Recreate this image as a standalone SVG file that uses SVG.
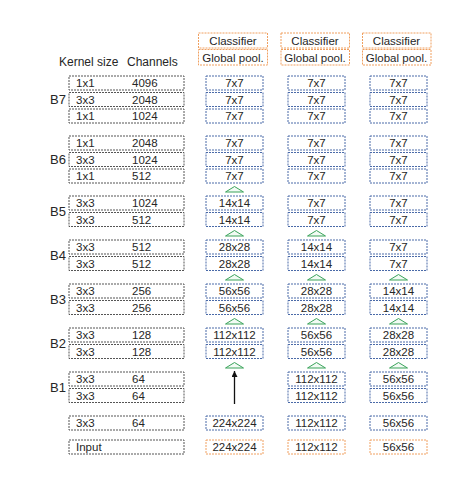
<svg xmlns="http://www.w3.org/2000/svg" width="474" height="496" viewBox="0 0 474 496">
<defs>
<style>
text{font-family:"Liberation Sans",Arial,sans-serif;font-size:11.5px;fill:#262626}
.hd{font-size:12px}
.bl{font-size:13px}
.c{text-anchor:middle}
.k{fill:none;stroke:#555;stroke-width:1;stroke-dasharray:2 1}
.b{fill:none;stroke:#4a6aa8;stroke-width:1;stroke-dasharray:2 1}
.o{fill:none;stroke:#f0a060;stroke-width:1;stroke-dasharray:2 1}
.t{fill:#f2fbf4;stroke:#3aa35a;stroke-width:1}
</style>
<marker id="ah" markerWidth="8" markerHeight="8" refX="6" refY="3" orient="auto" markerUnits="userSpaceOnUse">
<path d="M0,0 L6,3 L0,6 z" fill="#111"/>
</marker>
</defs>
<rect width="474" height="496" fill="#fff"/>

<g id="header">
<text class="hd" x="59" y="65.5">Kernel size</text>
<text class="hd" x="127" y="65.5">Channels</text>
</g>

<g id="labels">
<text class="bl" x="50" y="104">B7</text>
<text class="bl" x="50" y="164">B6</text>
<text class="bl" x="50" y="216">B5</text>
<text class="bl" x="50" y="260">B4</text>
<text class="bl" x="50" y="304">B3</text>
<text class="bl" x="50" y="348">B2</text>
<text class="bl" x="50" y="392">B1</text>
</g>

<g id="table">
<rect class="k" x="69" y="76" width="115" height="14"/><text x="76" y="87">1x1</text><text x="132" y="87">4096</text>
<rect class="k" x="69" y="92.5" width="115" height="14"/><text x="76" y="103.5">3x3</text><text x="132" y="103.5">2048</text>
<rect class="k" x="69" y="109" width="115" height="14"/><text x="76" y="120">1x1</text><text x="132" y="120">1024</text>
<rect class="k" x="69" y="136" width="115" height="14"/><text x="76" y="147">1x1</text><text x="132" y="147">2048</text>
<rect class="k" x="69" y="152.5" width="115" height="14"/><text x="76" y="163.5">3x3</text><text x="132" y="163.5">1024</text>
<rect class="k" x="69" y="169" width="115" height="14"/><text x="76" y="180">1x1</text><text x="132" y="180">512</text>
<rect class="k" x="69" y="196" width="115" height="14"/><text x="76" y="207">3x3</text><text x="132" y="207">1024</text>
<rect class="k" x="69" y="212.5" width="115" height="14"/><text x="76" y="223.5">3x3</text><text x="132" y="223.5">512</text>
<rect class="k" x="69" y="240" width="115" height="14"/><text x="76" y="251">3x3</text><text x="132" y="251">512</text>
<rect class="k" x="69" y="256.5" width="115" height="14"/><text x="76" y="267.5">3x3</text><text x="132" y="267.5">512</text>
<rect class="k" x="69" y="284" width="115" height="14"/><text x="76" y="295">3x3</text><text x="132" y="295">256</text>
<rect class="k" x="69" y="300.5" width="115" height="14"/><text x="76" y="311.5">3x3</text><text x="132" y="311.5">256</text>
<rect class="k" x="69" y="328" width="115" height="14"/><text x="76" y="339">3x3</text><text x="132" y="339">128</text>
<rect class="k" x="69" y="344.5" width="115" height="14"/><text x="76" y="355.5">3x3</text><text x="132" y="355.5">128</text>
<rect class="k" x="69" y="372" width="115" height="14"/><text x="76" y="383">3x3</text><text x="132" y="383">64</text>
<rect class="k" x="69" y="388.5" width="115" height="14"/><text x="76" y="399.5">3x3</text><text x="132" y="399.5">64</text>
<rect class="k" x="69" y="416" width="115" height="14"/><text x="76" y="427">3x3</text><text x="132" y="427">64</text>
<rect class="k" x="69" y="440" width="115" height="14"/><text x="76" y="451">Input</text>
</g>

<g id="col1">
<rect class="o" x="198.5" y="33" width="69" height="15"/><text class="c" x="233" y="45">Classifier</text>
<rect class="o" x="198.5" y="49.5" width="69" height="15.5"/><text class="c" x="233" y="61.5">Global pool.</text>
<rect class="b" x="206" y="76" width="57" height="14"/><text class="c" x="234.5" y="87">7x7</text>
<rect class="b" x="206" y="92.5" width="57" height="14"/><text class="c" x="234.5" y="103.5">7x7</text>
<rect class="b" x="206" y="109" width="57" height="14"/><text class="c" x="234.5" y="120">7x7</text>
<rect class="b" x="206" y="136" width="57" height="14"/><text class="c" x="234.5" y="147">7x7</text>
<rect class="b" x="206" y="152.5" width="57" height="14"/><text class="c" x="234.5" y="163.5">7x7</text>
<rect class="b" x="206" y="169" width="57" height="14"/><text class="c" x="234.5" y="180">7x7</text>
<rect class="b" x="206" y="196" width="57" height="14"/><text class="c" x="234.5" y="207">14x14</text>
<rect class="b" x="206" y="212.5" width="57" height="14"/><text class="c" x="234.5" y="223.5">14x14</text>
<rect class="b" x="206" y="240" width="57" height="14"/><text class="c" x="234.5" y="251">28x28</text>
<rect class="b" x="206" y="256.5" width="57" height="14"/><text class="c" x="234.5" y="267.5">28x28</text>
<rect class="b" x="206" y="284" width="57" height="14"/><text class="c" x="234.5" y="295">56x56</text>
<rect class="b" x="206" y="300.5" width="57" height="14"/><text class="c" x="234.5" y="311.5">56x56</text>
<rect class="b" x="206" y="328" width="57" height="14"/><text class="c" x="234.5" y="339">112x112</text>
<rect class="b" x="206" y="344.5" width="57" height="14"/><text class="c" x="234.5" y="355.5">112x112</text>
<rect class="b" x="206" y="416" width="57" height="14"/><text class="c" x="234.5" y="427">224x224</text>
<rect class="o" x="206" y="440" width="57" height="14"/><text class="c" x="234.5" y="451">224x224</text>
</g>

<g id="col2">
<rect class="o" x="281" y="33" width="68.5" height="15"/><text class="c" x="315" y="45">Classifier</text>
<rect class="o" x="281" y="49.5" width="68.5" height="15.5"/><text class="c" x="315" y="61.5">Global pool.</text>
<rect class="b" x="288" y="76" width="57" height="14"/><text class="c" x="316.5" y="87">7x7</text>
<rect class="b" x="288" y="92.5" width="57" height="14"/><text class="c" x="316.5" y="103.5">7x7</text>
<rect class="b" x="288" y="109" width="57" height="14"/><text class="c" x="316.5" y="120">7x7</text>
<rect class="b" x="288" y="136" width="57" height="14"/><text class="c" x="316.5" y="147">7x7</text>
<rect class="b" x="288" y="152.5" width="57" height="14"/><text class="c" x="316.5" y="163.5">7x7</text>
<rect class="b" x="288" y="169" width="57" height="14"/><text class="c" x="316.5" y="180">7x7</text>
<rect class="b" x="288" y="196" width="57" height="14"/><text class="c" x="316.5" y="207">7x7</text>
<rect class="b" x="288" y="212.5" width="57" height="14"/><text class="c" x="316.5" y="223.5">7x7</text>
<rect class="b" x="288" y="240" width="57" height="14"/><text class="c" x="316.5" y="251">14x14</text>
<rect class="b" x="288" y="256.5" width="57" height="14"/><text class="c" x="316.5" y="267.5">14x14</text>
<rect class="b" x="288" y="284" width="57" height="14"/><text class="c" x="316.5" y="295">28x28</text>
<rect class="b" x="288" y="300.5" width="57" height="14"/><text class="c" x="316.5" y="311.5">28x28</text>
<rect class="b" x="288" y="328" width="57" height="14"/><text class="c" x="316.5" y="339">56x56</text>
<rect class="b" x="288" y="344.5" width="57" height="14"/><text class="c" x="316.5" y="355.5">56x56</text>
<rect class="b" x="288" y="372" width="57" height="14"/><text class="c" x="316.5" y="383">112x112</text>
<rect class="b" x="288" y="388.5" width="57" height="14"/><text class="c" x="316.5" y="399.5">112x112</text>
<rect class="b" x="288" y="416" width="57" height="14"/><text class="c" x="316.5" y="427">112x112</text>
<rect class="o" x="288" y="440" width="57" height="14"/><text class="c" x="316.5" y="451">112x112</text>
</g>

<g id="col3">
<rect class="o" x="362.5" y="33" width="68.5" height="15"/><text class="c" x="396.5" y="45">Classifier</text>
<rect class="o" x="362.5" y="49.5" width="68.5" height="15.5"/><text class="c" x="396.5" y="61.5">Global pool.</text>
<rect class="b" x="370" y="76" width="57" height="14"/><text class="c" x="398.5" y="87">7x7</text>
<rect class="b" x="370" y="92.5" width="57" height="14"/><text class="c" x="398.5" y="103.5">7x7</text>
<rect class="b" x="370" y="109" width="57" height="14"/><text class="c" x="398.5" y="120">7x7</text>
<rect class="b" x="370" y="136" width="57" height="14"/><text class="c" x="398.5" y="147">7x7</text>
<rect class="b" x="370" y="152.5" width="57" height="14"/><text class="c" x="398.5" y="163.5">7x7</text>
<rect class="b" x="370" y="169" width="57" height="14"/><text class="c" x="398.5" y="180">7x7</text>
<rect class="b" x="370" y="196" width="57" height="14"/><text class="c" x="398.5" y="207">7x7</text>
<rect class="b" x="370" y="212.5" width="57" height="14"/><text class="c" x="398.5" y="223.5">7x7</text>
<rect class="b" x="370" y="240" width="57" height="14"/><text class="c" x="398.5" y="251">7x7</text>
<rect class="b" x="370" y="256.5" width="57" height="14"/><text class="c" x="398.5" y="267.5">7x7</text>
<rect class="b" x="370" y="284" width="57" height="14"/><text class="c" x="398.5" y="295">14x14</text>
<rect class="b" x="370" y="300.5" width="57" height="14"/><text class="c" x="398.5" y="311.5">14x14</text>
<rect class="b" x="370" y="328" width="57" height="14"/><text class="c" x="398.5" y="339">28x28</text>
<rect class="b" x="370" y="344.5" width="57" height="14"/><text class="c" x="398.5" y="355.5">28x28</text>
<rect class="b" x="370" y="372" width="57" height="14"/><text class="c" x="398.5" y="383">56x56</text>
<rect class="b" x="370" y="388.5" width="57" height="14"/><text class="c" x="398.5" y="399.5">56x56</text>
<rect class="b" x="370" y="416" width="57" height="14"/><text class="c" x="398.5" y="427">56x56</text>
<rect class="o" x="370" y="440" width="57" height="14"/><text class="c" x="398.5" y="451">56x56</text>
</g>

<g id="connectors">
<polygon class="t" points="225.5,192 243.5,192 234.5,186.5"/>
<polygon class="t" points="225.5,236 243.5,236 234.5,230.5"/>
<polygon class="t" points="225.5,280 243.5,280 234.5,274.5"/>
<polygon class="t" points="225.5,324 243.5,324 234.5,318.5"/>
<polygon class="t" points="225.5,368 243.5,368 234.5,362.5"/>
<polygon class="t" points="307.5,236 325.5,236 316.5,230.5"/>
<polygon class="t" points="307.5,280 325.5,280 316.5,274.5"/>
<polygon class="t" points="307.5,324 325.5,324 316.5,318.5"/>
<polygon class="t" points="307.5,368 325.5,368 316.5,362.5"/>
<polygon class="t" points="389.5,280 407.5,280 398.5,274.5"/>
<polygon class="t" points="389.5,324 407.5,324 398.5,318.5"/>
<polygon class="t" points="389.5,368 407.5,368 398.5,362.5"/>
<line x1="234.5" y1="404" x2="234.5" y2="371" stroke="#111" stroke-width="1.3" marker-end="url(#ah)"/>
</g>
</svg>
